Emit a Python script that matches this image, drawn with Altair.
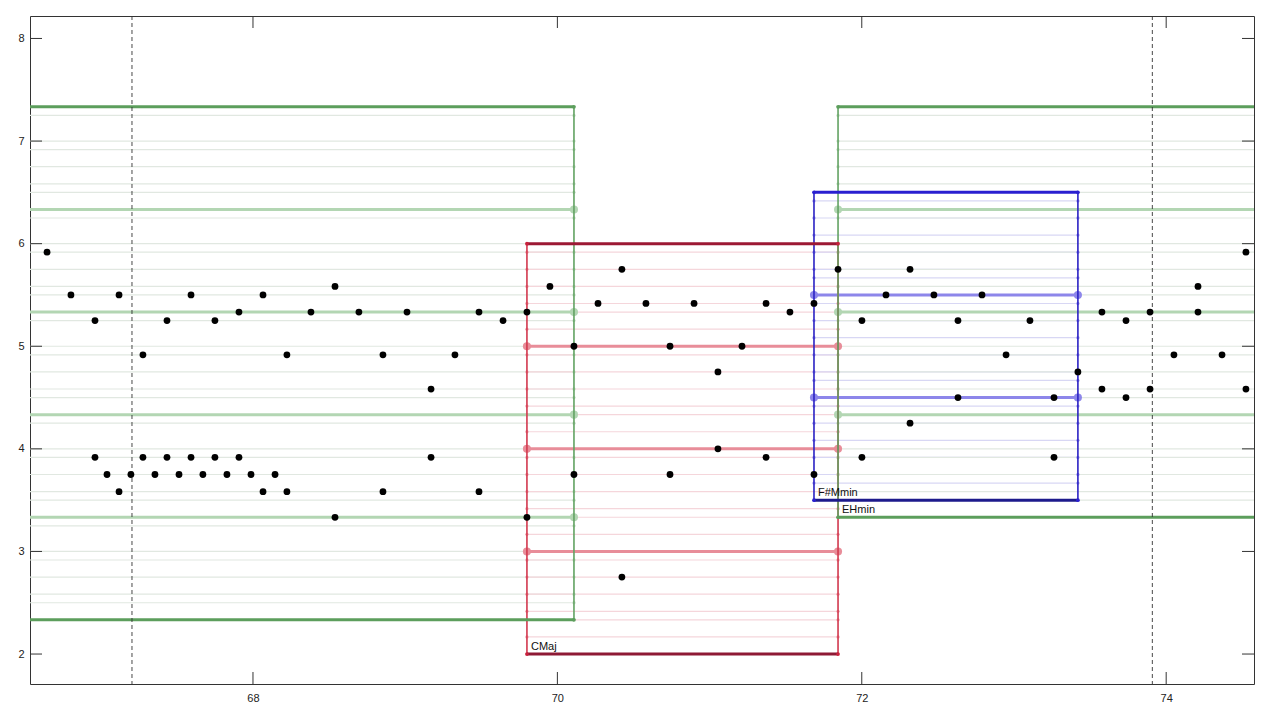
import altair as alt
import pandas as pd

# ---------------- data ----------------
X_DOMAIN = [66.535, 74.577]
Y_DOMAIN = [1.708, 8.219]

x_tick_values = [68, 70, 72, 74]
y_tick_values = [2, 3, 4, 5, 6, 7, 8]

# note onsets (time) and pitches (octave + semitone/12, C = integer)
note_t = [66.647, 66.804, 66.962, 66.962, 67.041, 67.120, 67.120, 67.198,
          67.277, 67.277, 67.356, 67.435, 67.435, 67.514, 67.593, 67.593,
          67.671, 67.750, 67.750, 67.829, 67.908, 67.908, 67.987, 68.066,
          68.066, 68.145, 68.223, 68.223, 68.381, 68.539, 68.539, 68.696,
          68.854, 68.854, 69.012, 69.170, 69.170, 69.327, 69.485, 69.485,
          69.643, 69.800, 69.800, 69.951, 70.109, 70.109, 70.267, 70.424,
          70.424, 70.582, 70.740, 70.740, 70.898, 71.055, 71.055, 71.213,
          71.371, 71.371, 71.528, 71.686, 71.686, 71.844, 72.001, 72.001,
          72.159, 72.317, 72.317, 72.474, 72.632, 72.632, 72.790, 72.948,
          73.105, 73.263, 73.263, 73.420, 73.578, 73.578, 73.736, 73.736,
          73.894, 73.894, 74.051, 74.209, 74.209, 74.367, 74.524, 74.524]
note_p = [5.917, 5.500, 5.250, 3.917, 3.750, 5.500, 3.583, 3.750,
          4.917, 3.917, 3.750, 5.250, 3.917, 3.750, 5.500, 3.917,
          3.750, 5.250, 3.917, 3.750, 5.333, 3.917, 3.750, 5.500,
          3.583, 3.750, 4.917, 3.583, 5.333, 5.583, 3.333, 5.333,
          4.917, 3.583, 5.333, 4.583, 3.917, 4.917, 5.333, 3.583,
          5.250, 5.333, 3.333, 5.583, 5.000, 3.750, 5.417, 5.750,
          2.750, 5.417, 5.000, 3.750, 5.417, 4.750, 4.000, 5.000,
          5.417, 3.917, 5.333, 5.417, 3.750, 5.750, 5.250, 3.917,
          5.500, 5.750, 4.250, 5.500, 5.250, 4.500, 5.500, 4.917,
          5.250, 4.500, 3.917, 4.750, 5.333, 4.583, 5.250, 4.500,
          5.333, 4.583, 4.917, 5.583, 5.333, 4.917, 5.917, 4.583]

# key regions
region_label = ["", "CMaj", "F#Mmin", "EHmin"]
region_x0 = [66.0, 69.800, 71.686, 71.844]
region_x1 = [70.109, 71.844, 73.420, 75.2]
region_tonic_pc = [4, 0, 6, 4]          # E, C, F#, E
region_oct_lo = [2, 2, 3, 3]
region_oct_hi = [7, 6, 6, 7]
region_degrees = [[0, 2, 3, 5, 7, 8, 11],   # harmonic minor
                  [0, 2, 4, 5, 7, 9, 11],   # major
                  [0, 2, 3, 5, 7, 9, 11],   # melodic minor
                  [0, 2, 3, 5, 7, 8, 11]]   # harmonic minor

# section boundaries (dashed)
dash_t = [67.205, 73.909]

# ---------------- styles ----------------
pal = {
    "green": dict(light="#e1e8e1", lightdot="#c2dcc2", tonic="#b3d6b3",
                  top="#5c9e5c", bottom="#5c9e5c", vert="#62a262", enddot="#5c9e5c"),
    "red": dict(light="#f5d6db", lightdot="#ee9fab", tonic="#e88d99",
                top="#9c1834", bottom="#8e1a35", vert="#d2384e", enddot="#c8203c"),
    "blue": dict(light="#d8d7f4", lightdot="#9d97ec", tonic="#8d86ea",
                 top="#2a1fd0", bottom="#1d1a8c", vert="#2b22c4", enddot="#2a1fd0"),
}
region_pal = ["green", "red", "blue", "green"]

light_rows, tonic_rows, edge_rows, vert_rows = [], [], [], []
small_pts, big_pts, edge_pts, label_rows = [], [], [], []
for i in range(len(region_label)):
    c = pal[region_pal[i]]
    x0, x1 = region_x0[i], region_x1[i]
    lo = region_oct_lo[i] + region_tonic_pc[i] / 12
    hi = region_oct_hi[i] + region_tonic_pc[i] / 12
    for octv in range(region_oct_lo[i], region_oct_hi[i] + 1):
        for d in region_degrees[i]:
            p = octv + (region_tonic_pc[i] + d) / 12
            if p > hi + 1e-6:
                continue
            if d == 0 and abs(p - lo) < 1e-6:
                edge_rows.append(dict(x=x0, x2=x1, y=p, c=c["bottom"], w=3))
                edge_pts += [dict(x=x0, y=p, c=c["enddot"]), dict(x=x1, y=p, c=c["enddot"])]
            elif d == 0 and abs(p - hi) < 1e-6:
                edge_rows.append(dict(x=x0, x2=x1, y=p, c=c["top"], w=3))
                edge_pts += [dict(x=x0, y=p, c=c["enddot"]), dict(x=x1, y=p, c=c["enddot"])]
            elif d == 0:
                tonic_rows.append(dict(x=x0, x2=x1, y=p, c=c["tonic"], w=3))
                big_pts += [dict(x=x0, y=p, c=c["tonic"]), dict(x=x1, y=p, c=c["tonic"])]
            else:
                light_rows.append(dict(x=x0, x2=x1, y=p, c=c["light"], w=1.2))
                small_pts += [dict(x=x0, y=p, c=c["lightdot"]), dict(x=x1, y=p, c=c["lightdot"])]
    for xv in (x0, x1):
        vert_rows.append(dict(x=xv, y=lo, y2=hi, c=c["vert"], w=1.6))
    if region_label[i]:
        label_rows.append(dict(x=x0, y=lo, t=region_label[i]))

xs = alt.Scale(domain=X_DOMAIN, nice=False, zero=False)
ys = alt.Scale(domain=Y_DOMAIN, nice=False, zero=False)
FONT = "Liberation Sans"
xax = alt.Axis(values=x_tick_values, ticks=False, domain=False, grid=False, title=None,
               labelFont=FONT, labelFontSize=11, labelColor="#222222", labelPadding=8,
               format="d", labelFlush=False)
yax = alt.Axis(values=y_tick_values, ticks=False, domain=False, grid=False, title=None,
               labelFont=FONT, labelFontSize=11, labelColor="#222222", labelPadding=6,
               format="d", labelFlush=False)

def X(f="x"):
    return alt.X(f"{f}:Q", scale=xs, axis=xax)

def Y(f="y"):
    return alt.Y(f"{f}:Q", scale=ys, axis=yax)

def hrules(rows):
    return alt.Chart(pd.DataFrame(rows)).mark_rule(clip=True).encode(
        x=X(), x2="x2:Q", y=Y(),
        color=alt.Color("c:N", scale=None),
        strokeWidth=alt.StrokeWidth("w:Q", scale=None))

def pts(rows, size, filled=True):
    return alt.Chart(pd.DataFrame(rows)).mark_point(
        clip=True, filled=filled, size=size, opacity=1, shape="circle").encode(
        x=X(), y=Y(), color=alt.Color("c:N", scale=None))

light_layer = hrules(light_rows)
small_layer = pts(small_pts, 11)
tonic_layer = hrules(tonic_rows)
big_layer = pts(big_pts, 65)
vert_layer = alt.Chart(pd.DataFrame(vert_rows)).mark_rule(clip=True).encode(
    x=X(), y=Y(), y2="y2:Q",
    color=alt.Color("c:N", scale=None),
    strokeWidth=alt.StrokeWidth("w:Q", scale=None))
edge_layer = hrules(edge_rows)
edge_pt_layer = pts(edge_pts, 14)

dash_layer = alt.Chart(pd.DataFrame({"x": dash_t})).mark_rule(
    strokeDash=[4, 3], color="#333333", strokeWidth=0.9).encode(x=X())

notes = alt.Chart(pd.DataFrame({"x": note_t, "y": note_p})).mark_circle(
    size=46, color="#000000", opacity=1).encode(x=X(), y=Y())

labels = alt.Chart(pd.DataFrame(label_rows)).mark_text(
    align="left", baseline="bottom", dx=4, dy=-2, font=FONT, fontSize=11,
    color="#111111").encode(x=X(), y=Y(), text="t:N")

H, W = 668, 1224
xt = pd.DataFrame({"x": x_tick_values})
yt = pd.DataFrame({"y": y_tick_values})
tick_style = dict(color="#333333", strokeWidth=1)
xt_bottom = alt.Chart(xt).mark_rule(**tick_style).encode(
    x=X(), y=alt.value(H), y2=alt.value(H - 12))
xt_top = alt.Chart(xt).mark_rule(**tick_style).encode(
    x=X(), y=alt.value(0), y2=alt.value(12))
yt_left = alt.Chart(yt).mark_rule(**tick_style).encode(
    y=Y(), x=alt.value(0), x2=alt.value(12))
yt_right = alt.Chart(yt).mark_rule(**tick_style).encode(
    y=Y(), x=alt.value(W - 12), x2=alt.value(W))

chart = alt.layer(
    light_layer, small_layer, tonic_layer, big_layer, vert_layer, edge_layer,
    edge_pt_layer, dash_layer, notes, labels, xt_bottom, xt_top, yt_left, yt_right
).properties(
    width=W, height=H, autosize=alt.AutoSizeParams(type="none"),
    padding={"left": 30, "top": 16, "right": 26, "bottom": 36},
    background="#ffffff"
).configure_view(stroke="#333333", strokeWidth=1)

chart.save("out.html", embed_options={"renderer": "svg", "actions": False})
